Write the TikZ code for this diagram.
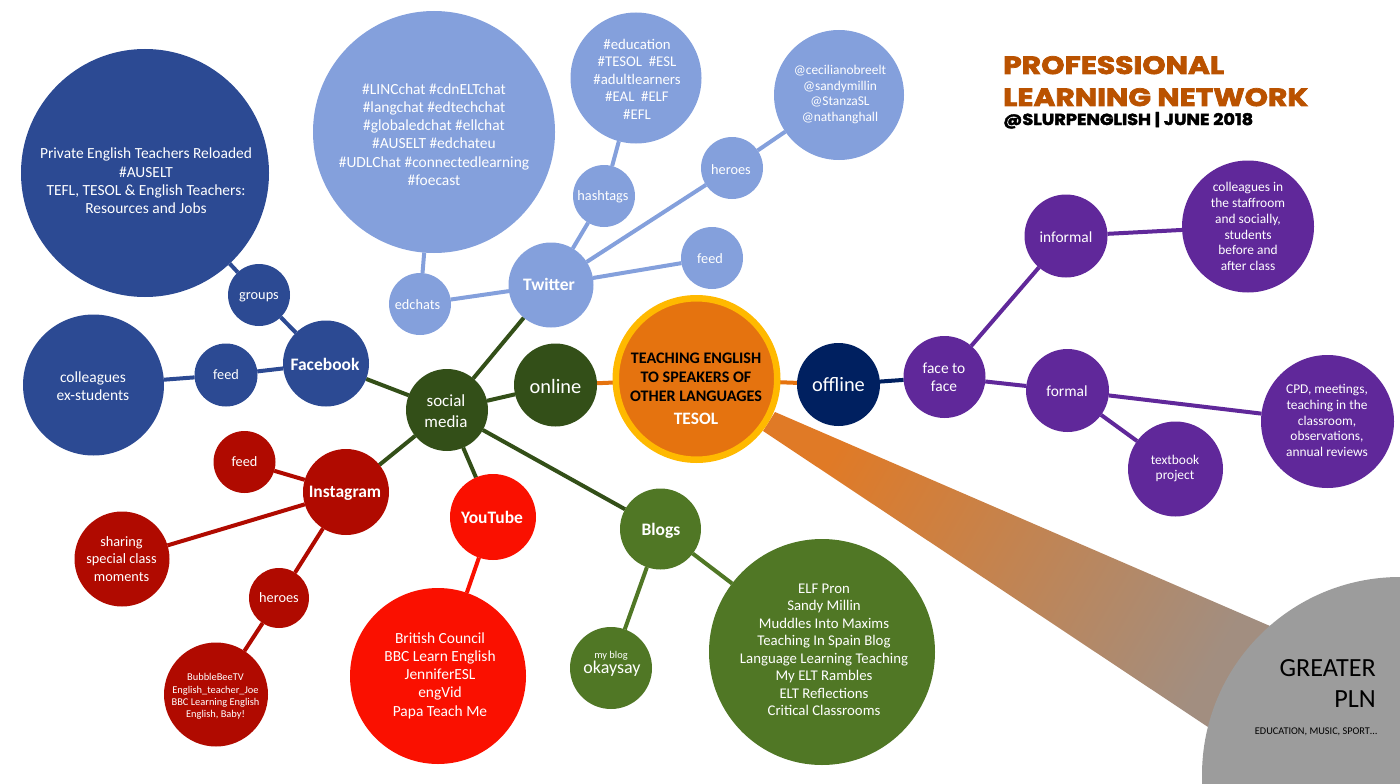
\documentclass[tikz,border=0pt]{standalone}
\usepackage{fontspec}
\setmainfont{Carlito}
\newfontfamily\titlefont[BoldFeatures={FakeBold=3,FakeStretch=1.19}]{Poppins}
\newfontfamily\subtitlefont[BoldFeatures={FakeBold=2.5,FakeStretch=1.11}]{Poppins}
\usetikzlibrary{backgrounds}
\definecolor{cDark}{HTML}{2C4A93}
\definecolor{cLight}{HTML}{84A0DC}
\definecolor{cMaroon}{HTML}{B00A00}
\definecolor{cRed}{HTML}{FA1000}
\definecolor{cGreen}{HTML}{507725}
\definecolor{cMoss}{HTML}{334F18}
\definecolor{cPurple}{HTML}{60289A}
\definecolor{cNavy}{HTML}{002060}
\definecolor{cOrange}{HTML}{E5730F}
\definecolor{cGold}{HTML}{FFB900}
\definecolor{cGrey}{HTML}{9C9C9C}
\definecolor{cTitle}{HTML}{BA5200}
\definecolor{cWedgeA}{HTML}{E07A26}
\definecolor{cWedgeB}{HTML}{A28E80}
\tikzset{
  x=1pt,y=-1pt,
  bub/.style={circle,inner sep=0pt,outer sep=0pt,draw=none},
  txt/.style={align=center,text=white,inner sep=0pt},
  t10/.style={txt,font=\fontsize{10.4}{12.3}\selectfont},
  t13/.style={txt,font=\fontsize{13.4}{15.9}\selectfont},
  t14/.style={txt,font=\fontsize{14.3}{17.5}\selectfont},
  t147/.style={txt,font=\fontsize{14.8}{17.5}\selectfont},
  t15/.style={txt,font=\fontsize{15.45}{18.3}\selectfont},
  t18/.style={txt,font=\fontsize{18}{20}\selectfont},
  t17/.style={txt,font=\fontsize{17}{20.7}\selectfont},
  t20/.style={txt,font=\fontsize{20.4}{24}\selectfont},
  b17/.style={txt,font=\fontsize{17.5}{21}\selectfont\bfseries},
  link/.style={line width=4pt,draw=#1},
}
% name, colour, centre, radius, text position, text style, text
\newcommand\bub[7]{%
  \node[bub,fill=#2,minimum size=2*#4 pt] (#1) at (#3) {};
  \node[#6] (#1T) at (#5) {#7};
}
\begin{document}
\begin{tikzpicture}
\path[use as bounding box,clip] (0,0) rectangle (1400,784);
% centre
\node[bub,fill=cOrange,draw=cGold,line width=6.5pt,minimum size=161.5pt] (tesol) at (696.5,379) {};
\node[align=center,inner sep=0pt,font=\fontsize{16.1}{18.9}\selectfont\bfseries,text=black] (tesolT) at (696,377.5) {TEACHING ENGLISH\\TO SPEAKERS OF\\OTHER LANGUAGES};
\node[txt,font=\fontsize{17.4}{20}\selectfont\bfseries] (tesolS) at (696,419) {TESOL};
% trunks
\bub{online}{cMoss}{555.5,385}{41.5}{555.5,386}{t20}{online}
\bub{offline}{cNavy}{838.5,384.5}{41.5}{838.5,385}{t20}{offline}
\bub{social}{cMoss}{447,410}{41}{446,411}{t17}{social\\media}
% twitter
\bub{twitter}{cLight}{551,285}{42.5}{549,284.5}{b17}{Twitter}
\bub{tedchats}{cLight}{420,304}{31}{417.5,304.5}{t14}{edchats}
\bub{tedbig}{cLight}{434,132}{121}{434,134.5}{t15}{\#LINCchat \#cdnELTchat\\\#langchat \#edtechchat\\\#globaledchat \#ellchat\\\#AUSELT \#edchateu\\\#UDLChat \#connectedlearning\\\#foecast}
\bub{thash}{cLight}{604,196}{31}{603,196.5}{t14}{hashtags}
\bub{thashbig}{cLight}{636,78}{65.5}{637,79}{t147}{\#education\\\#TESOL\ \ \#ESL\\\#adultlearners\\\#EAL\ \ \#ELF\\\#EFL}
\bub{theroes}{cLight}{732,168}{31}{731,169.5}{t14}{heroes}
\bub{therobig}{cLight}{839,95}{65}{840,94.5}{t13}{@cecilianobreelt\\@sandymillin\\@StanzaSL\\@nathanghall}
\bub{tfeed}{cLight}{712,258}{31}{710,259}{t14}{feed}
% facebook
\bub{fb}{cDark}{326,363.5}{43}{325,364}{b17}{Facebook}
\bub{fgroups}{cDark}{259,295}{31}{259,297.5}{t14}{groups}
\bub{fgroupsbig}{cDark}{145,173}{124}{146,181}{t15}{Private English Teachers Reloaded\\\#AUSELT\\TEFL, TESOL \& English Teachers:\\Resources and Jobs}
\bub{ffeed}{cDark}{226,375}{31.5}{226,375}{t14}{feed}
\bub{ffeedbig}{cDark}{93.5,385}{70.5}{93,386}{t15}{colleagues\\ex-students}
% instagram
\bub{ig}{cMaroon}{346,492}{43}{345,493}{b17}{Instagram}
\bub{ifeed}{cMaroon}{244.5,462}{31}{244.5,462}{t14}{feed}
\bub{ishare}{cMaroon}{122,559}{47.5}{121.5,559}{t14}{sharing\\special class\\moments}
\bub{iheroes}{cMaroon}{279,598}{30}{279,597.5}{t14}{heroes}
\bub{iherobig}{cMaroon}{216,694.5}{52}{215.5,696.5}{t10}{BubbleBeeTV\\English\_teacher\_Joe\\BBC Learning English\\English, Baby!}
% youtube
\bub{yt}{cRed}{493,517}{43}{492,517.5}{b17}{YouTube}
\bub{ytbig}{cRed}{438,676}{88}{440,675.5}{t15}{British Council\\BBC Learn English\\JenniferESL\\engVid\\Papa Teach Me}
% blogs
\bub{blogs}{cGreen}{660.5,529}{40.5}{661,530.5}{b17}{Blogs}
\bub{myblog}{cGreen}{611,668}{41}{611,655.5}{t10}{my blog}
\node[t18] (okaysay) at (612,669) {okaysay};
\bub{blogbig}{cGreen}{822,652}{113}{824,650}{t147}{ELF Pron\\Sandy Millin\\Muddles Into Maxims\\Teaching In Spain Blog\\Language Learning Teaching\\My ELT Rambles\\ELT Reflections\\Critical Classrooms}
% offline side
\bub{face}{cPurple}{944.5,377}{41}{944,377}{t15}{face to\\face}
\bub{informal}{cPurple}{1066,236}{41.5}{1066,237}{t15}{informal}
\bub{infbig}{cPurple}{1248,226.5}{66}{1248,226.5}{t13}{colleagues in\\the staffroom\\and socially,\\students\\before and\\after class}
\bub{formal}{cPurple}{1067.5,390.5}{41.5}{1067,391}{t15}{formal}
\bub{cpd}{cPurple}{1327.5,421.5}{66.5}{1327,420.5}{t13}{CPD, meetings,\\teaching in the\\classroom,\\observations,\\annual reviews}
\bub{textbook}{cPurple}{1175.5,469}{47.5}{1175,468.5}{t13}{textbook\\project}
% greater PLN
\node[bub,fill=cGrey,minimum size=396pt] (pln) at (1400,775) {};
\node[anchor=base east,inner sep=0pt,align=right,text=black,font=\fontsize{26.2}{31}\selectfont] (plnA) at (1376,676) {GREATER};
\node[anchor=base east,inner sep=0pt,text=black,font=\fontsize{26.2}{31}\selectfont] (plnB) at (1376,707) {PLN};
\node[inner sep=0pt,text=black,font=\fontsize{10.3}{12}\selectfont] (plnC) at (1316,732) {EDUCATION, MUSIC, SPORT…};
% title
\node[anchor=base west,inner sep=0pt,text=cTitle,font=\fontsize{25}{30}\titlefont\bfseries] (title1) at (1003,74) {PROFESSIONAL};
\node[anchor=base west,inner sep=0pt,text=cTitle,font=\fontsize{25}{30}\titlefont\bfseries] (title2) at (1003,106) {LEARNING NETWORK};
\node[anchor=base west,inner sep=0pt,text=black,font=\fontsize{16}{19}\subtitlefont\bfseries] (title3) at (1003,125) {@SLURPENGLISH | JUNE 2018};
% connectors and wedge behind everything
\begin{scope}[on background layer]
\coordinate (w1) at (775,412);
\coordinate (w2) at (1270,626);
\coordinate (w3) at (1208,727);
\coordinate (w4) at (763,431);
\shade[left color=cWedgeA,right color=cWedgeB,shading angle=60] (w1) -- (w2) -- (w3) -- (w4) -- cycle;
\draw[link=cOrange] (tesol) -- (online);
\draw[link=cOrange] (tesol) -- (offline);
\draw[link=cNavy] (offline) -- (face);
\draw[link=cMoss] (online) -- (social);
\draw[link=cMoss] (social) -- (twitter);
\draw[link=cMoss] (social) -- (fb);
\draw[link=cMoss] (social) -- (ig);
\draw[link=cMoss] (social) -- (yt);
\draw[link=cMoss] (social) -- (blogs);
\draw[link=cLight] (twitter) -- (tedchats);
\draw[link=cLight] (tedchats) -- (tedbig);
\draw[link=cLight] (twitter) -- (thash);
\draw[link=cLight] (thash) -- (thashbig);
\draw[link=cLight] (twitter) -- (theroes);
\draw[link=cLight] (theroes) -- (therobig);
\draw[link=cLight] (twitter) -- (tfeed);
\draw[link=cDark] (fb) -- (fgroups);
\draw[link=cDark] (fgroups) -- (fgroupsbig);
\draw[link=cDark] (fb) -- (ffeed);
\draw[link=cDark] (ffeed) -- (ffeedbig);
\draw[link=cMaroon] (ig) -- (ifeed);
\draw[link=cMaroon] (ig) -- (ishare);
\draw[link=cMaroon] (ig) -- (iheroes);
\draw[link=cMaroon] (iheroes) -- (iherobig);
\draw[link=cRed] (yt) -- (ytbig);
\draw[link=cGreen] (blogs) -- (myblog);
\draw[link=cGreen] (blogs) -- (blogbig);
\draw[link=cPurple] (face) -- (informal);
\draw[link=cPurple] (face) -- (formal);
\draw[link=cPurple] (informal) -- (infbig);
\draw[link=cPurple] (formal) -- (cpd);
\draw[link=cPurple] (formal) -- (textbook);
\end{scope}
\end{tikzpicture}
\end{document}
